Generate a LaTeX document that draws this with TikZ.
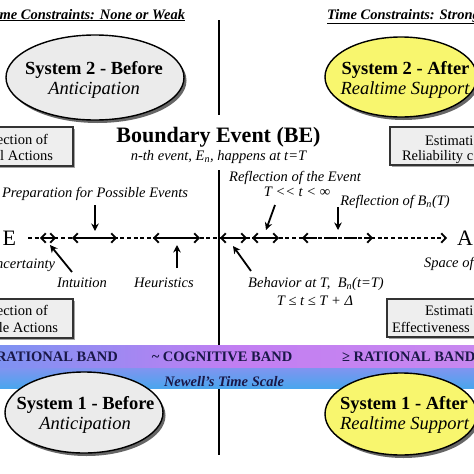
\documentclass[tikz,border=0pt]{standalone}
\usepackage{fontspec}
\setmainfont{Liberation Serif}
\usetikzlibrary{arrows.meta,shapes.geometric,shadows}
\definecolor{ellgray}{HTML}{EBEBEB}
\definecolor{ellyellow}{HTML}{F8F66E}
\definecolor{boxgray}{HTML}{EEEEEE}
\definecolor{bandtext}{HTML}{1A1848}
\definecolor{bandL}{HTML}{7E92F2}
\definecolor{bandM}{HTML}{C27EF2}
\definecolor{bandR}{HTML}{C888F0}
\definecolor{bandblue}{HTML}{4AA6EE}
\newcommand{\myfs}[1]{\fontsize{#1}{#1}\selectfont}
\begin{document}
\begin{tikzpicture}[x=1pt,y=-1pt,
 txt/.style={inner sep=0pt,outer sep=0pt},
 lbl/.style={txt,font=\myfs{14.5}\itshape},
 hdr/.style={txt,font=\myfs{14.5}\bfseries\itshape},
 systitle/.style={txt,font=\myfs{18.5}\bfseries},
 syssub/.style={txt,font=\myfs{18.5}\itshape},
 ellg/.style={ellipse,draw=black,line width=1.4pt,fill=ellgray,inner sep=0pt,
   drop shadow={shadow xshift=2.5pt,shadow yshift=-3pt,fill=black!70,opacity=0.85}},
 elly/.style={ellg,fill=ellyellow},
 boxr/.style={rectangle,draw=black!80,line width=1.2pt,fill=boxgray,inner sep=0pt,
   drop shadow={shadow xshift=1.5pt,shadow yshift=-1.5pt,fill=black!45,opacity=0.8}},
 boxtxt/.style={txt,font=\myfs{14.5}},
 bandtxt/.style={txt,font=\myfs{14.5}\bfseries,text=bandtext},
 vline/.style={line width=2pt,black},
 timeline/.style={line width=1.8pt,dash pattern=on 4pt off 2.6pt,-{Straight Barb[length=4.5pt,width=9.5pt]}},
 dbl/.style={line width=1.8pt,{Straight Barb[length=4.5pt,width=9.5pt]}-{Straight Barb[length=4.5pt,width=9.5pt]}},
 dbldash/.style={dbl,dash pattern=on 3pt off 2pt},
 ptr/.style={line width=1.8pt,-{Stealth[length=7.5pt,width=7.5pt]}},
]
\useasboundingbox (0,0) rectangle (474,474);
\clip (0,0) rectangle (474,474);
\fill[white] (0,0) rectangle (474,474);

% headers
\node[hdr,anchor=base east] (hdrL) at (185,19) {\underline{me Constraints: None or Weak}};
\node[hdr,anchor=base west] (hdrR) at (327,19) {\underline{Time Constraints: Strong}};

% vertical divider
\coordinate (v1a) at (219,20); \coordinate (v1b) at (219,115);
\coordinate (v2a) at (219,170); \coordinate (v2b) at (219,455);
\draw[vline] (v1a) -- (v1b);
\draw[vline] (v2a) -- (v2b);

% System 2 ellipses
\node[ellg,minimum width=178pt,minimum height=85pt] (s2b) at (95,77.5) {};
\node[systitle,anchor=base] (s2bt) at (94,74) {System 2 - Before};
\node[syssub,anchor=base] (s2bs) at (94,94) {Anticipation};
\node[elly,minimum width=152pt,minimum height=80pt] (s2a) at (401,77) {};
\node[systitle,anchor=base] (s2at) at (405.5,74) {System 2 - After};
\node[syssub,anchor=base] (s2as) at (405,94) {Realtime Support};

% upper boxes
\node[boxr,minimum width=93pt,minimum height=39pt] (lb1) at (26.5,146.5) {};
\node[boxtxt,anchor=base east] (lb1a) at (48,144) {ection of};
\node[boxtxt,anchor=base east] (lb1b) at (53,160) {l Actions};
\node[boxr,minimum width=110pt,minimum height=38pt] (rb1) at (445,146) {};
\node[boxtxt,anchor=base west] (rb1a) at (425,145) {Estimati};
\node[boxtxt,anchor=base west] (rb1b) at (402,160) {Reliability c};

% boundary event
\node[txt,font=\myfs{22}\bfseries,anchor=base] (be) at (218.5,142) {Boundary Event (BE)};
\node[lbl,anchor=base] (ben) at (218.5,160) {n-th event, E\textsubscript{n}, happens at t=T};

% labels above timeline
\node[lbl,anchor=base west] (prep) at (2,197) {Preparation for Possible Events};
\node[lbl,anchor=base] (refe) at (295,181) {Reflection of the Event};
\node[lbl,anchor=base] (refe2) at (297,196) {T \mbox{<}\mbox{<} t < ∞};
\node[lbl,anchor=base] (refb) at (395,205) {Reflection of B\textsubscript{n}(T)};

% ends of timeline
\node[txt,font=\myfs{22},anchor=base east] (Eend) at (16,245.5) {E};
\node[txt,font=\myfs{22},anchor=base west] (Aend) at (457,245.5) {A};
\node[lbl,anchor=base east] (unc) at (55,268) {ncertainty};
\node[lbl,anchor=base west] (spc) at (424,267) {Space of};

% timeline
\coordinate (tl0) at (28,238); \coordinate (tl1) at (447,238);
\draw[timeline] (tl0) -- (tl1);
\coordinate (d1a) at (40,238);  \coordinate (d1b) at (56,238);
\coordinate (d2a) at (72,238);  \coordinate (d2b) at (117,238);
\coordinate (d3a) at (153,238); \coordinate (d3b) at (200,238);
\coordinate (d4a) at (220,238); \coordinate (d4b) at (247,238);
\coordinate (d5a) at (252,238); \coordinate (d5b) at (279,238);
\coordinate (d6a) at (302,238); \coordinate (d6b) at (373,238);
\draw[dbl] (d1a) -- (d1b);
\draw[dbl] (d2a) -- (d2b);
\draw[dbl] (d3a) -- (d3b);
\draw[dbl] (d4a) -- (d4b);
\draw[dbl] (d5a) -- (d5b);
\draw[dbldash] (d6a) -- (d6b);

% labels below timeline
\node[lbl,anchor=base] (intu) at (82,287) {Intuition};
\node[lbl,anchor=base] (heur) at (164,287) {Heuristics};
\node[lbl,anchor=base] (beh) at (316,287) {Behavior at T,\ \ B\textsubscript{n}(t=T)};
\node[lbl,anchor=base] (beh2) at (315,305) {T ≤ t ≤ T + Δ};

% pointer arrows
\coordinate (p1s) at (95,205);  \coordinate (p1e) at (95,231);
\coordinate (p2s) at (72,272);  \coordinate (p2e) at (50,245);
\coordinate (p3s) at (177,268); \coordinate (p3e) at (177,245);
\coordinate (p4s) at (251,271); \coordinate (p4e) at (233,246);
\coordinate (p5s) at (275,205); \coordinate (p5e) at (266,230);
\coordinate (p6s) at (338,207); \coordinate (p6e) at (338,230);
\draw[ptr] (p1s) -- (p1e);
\draw[ptr] (p2s) -- (p2e);
\draw[ptr] (p3s) -- (p3e);
\draw[ptr] (p4s) -- (p4e);
\draw[ptr] (p5s) -- (p5e);
\draw[ptr] (p6s) -- (p6e);

% lower boxes
\node[boxr,minimum width=93pt,minimum height=39pt] (lb2) at (26.5,318.5) {};
\node[boxtxt,anchor=base east] (lb2a) at (48,315) {ection of};
\node[boxtxt,anchor=base east] (lb2b) at (58,332) {le Actions};
\node[boxr,minimum width=113pt,minimum height=38pt] (rb2) at (443.5,318) {};
\node[boxtxt,anchor=base west] (rb2a) at (425,315) {Estimati};
\node[boxtxt,anchor=base west] (rb2b) at (392,332) {Effectiveness};

% band
\shade[left color=bandL,right color=bandR,middle color=bandM] (0,345) rectangle (474,368);
\shade[top color=bandM!45!bandblue,bottom color=bandblue] (0,368) rectangle (474,388);
\node[bandtxt,anchor=base west] (rat1) at (-4,361) {RATIONAL BAND};
\node[bandtxt,anchor=base] (cog) at (222,361) {\textasciitilde{} COGNITIVE BAND};
\node[bandtxt,anchor=base west] (rat2) at (342,361) {≥ RATIONAL BAND};
\node[bandtxt,font=\myfs{14.5}\bfseries\itshape,anchor=base] (newell) at (224,386) {Newell’s Time Scale};

% System 1 ellipses
\node[ellg,minimum width=158pt,minimum height=81pt] (s1b) at (84,412.5) {};
\node[systitle,anchor=base] (s1bt) at (85.5,409) {System 1 - Before};
\node[syssub,anchor=base] (s1bs) at (85,429) {Anticipation};
\node[elly,minimum width=152pt,minimum height=82pt] (s1a) at (401,414) {};
\node[systitle,anchor=base] (s1at) at (404,409) {System 1 - After};
\node[syssub,anchor=base] (s1as) at (404.5,429) {Realtime Support};
\end{tikzpicture}
\end{document}
